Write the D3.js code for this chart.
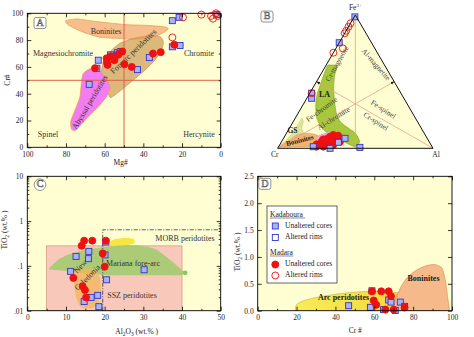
<!DOCTYPE html>
<html><head><meta charset="utf-8">
<script src="https://cdn.jsdelivr.net/npm/d3@7"></script>
<style>body{margin:0;background:#fff}svg{display:block}text{font-family:"Liberation Serif","Times New Roman",serif}</style>
</head><body>
<svg id="c" width="474" height="337"></svg>
<script>
// ---------- DATA ----------
// Panel A: [Mg#, Cr#]
const aKadCores = [[68,47],[63.3,65],[64,59],[57,69],[53.4,70.6],[51.7,71.5],[36.9,67],[43,58],[25,75],[21,76],[25,94.5],[21.5,97],[2,99]];
const aMadCores = [[65,59],[59,66.4],[58.5,61.5],[56.8,68],[55,65],[52.6,70],[50.9,71.5],[53,69],[49.8,62],[46,60],[35,70],[31,71],[24,76.6],[58.8,63.5]];
const aMadRims = [[25,82],[19.5,97],[10,99],[5,98],[4,96],[2.5,100],[1.5,98]];
const aBoninites = [[80.2,94.5],[74.5,95.8],[67.6,94.5],[59,93],[48.6,91.5],[38.3,91],[29.7,90],[27.1,88.8],[28.8,86.3],[33.1,83.1],[38.3,81.3],[45.2,80.6],[53.8,81.3],[62.4,82.1],[69.3,85],[74.5,88],[78.8,91.3]];
const aForearc = [[57.2,37.3],[59.8,45.3],[61.6,55.2],[60.7,63.9],[57.2,71.4],[52.1,77.6],[45.2,81.3],[36.6,83.1],[31.4,82.6],[29.7,78.9],[30.5,72.6],[34,65.2],[39.1,57.7],[45.2,50.2],[50.3,44],[54.7,39.1]];
const aAbyssal = [[77.1,13.4],[77.6,19.2],[75.3,27.9],[72.8,37.8],[71.9,50.2],[71,55.2],[67.9,58.5],[63.3,57.7],[59.8,52.7],[57.2,45.3],[59,37.8],[63.3,30.3],[68.4,22.9],[72.8,15.9],[75.3,12.4]];
const aTicks = [0,20,40,60,80,100];
const aMinor = [10,30,50,70,90];

// Panel B: [Cr, Al, Fe3+] fractions
const bKadCores = [[0.01,0.004,0.986],[0.208,0,0.792],[0.575,0.012,0.413],[0.594,0.031,0.375],[0.765,0.223,0.012],[0.663,0.337,0],[0.529,0.396,0.075],[0.467,0.526,0.007],[0.587,0.368,0.045]];
const bMadCores = [[0.734,0.236,0.03],[0.692,0.258,0.05],[0.649,0.281,0.07],[0.62,0.293,0.087],[0.592,0.308,0.1],[0.583,0.342,0.075],[0.574,0.376,0.05],[0.70,0.288,0.012],[0.63,0.345,0.025],[0.656,0.307,0.037],[0.60,0.338,0.062],[0.563,0.342,0.095],[0.745,0.243,0.012],[0.675,0.26,0.067]];
const bMadRims = [[0.062,0,0.938],[0.088,0,0.912],[0.118,0,0.882],[0.137,0,0.863],[0.283,0,0.717],[0.206,0.044,0.75],[0.575,0.012,0.413]];
const bLA = [[0.359,0.016,0.625],[0.31,0.073,0.617],[0.358,0.092,0.55],[0.409,0.129,0.462],[0.454,0.184,0.362],[0.491,0.246,0.263],[0.497,0.303,0.2],[0.468,0.382,0.15],[0.443,0.444,0.113],[0.447,0.503,0.05],[0.494,0.494,0.012],[0.52,0.455,0.025],[0.566,0.372,0.062],[0.611,0.289,0.1],[0.64,0.21,0.15],[0.635,0.14,0.225],[0.599,0.089,0.312],[0.547,0.053,0.4],[0.459,0.029,0.512],[0.377,0.011,0.612]];
const bGS = [[0.988,0,0.012],[0.911,0.027,0.062],[0.837,0.038,0.125],[0.765,0.043,0.192],[0.733,0.042,0.225],[0.735,0.065,0.2],[0.77,0.08,0.15],[0.774,0.126,0.1],[0.729,0.188,0.083],[0.714,0.236,0.05],[0.743,0.245,0.012],[0.894,0.094,0.012]];
const bBoninites = [[0.979,0.009,0.012],[0.89,0.048,0.062],[0.828,0.072,0.1],[0.767,0.12,0.113],[0.707,0.188,0.105],[0.679,0.246,0.075],[0.701,0.267,0.032],[0.783,0.2,0.017],[0.894,0.094,0.012]];
const bPink = [[0.695,0.213,0.092],[0.602,0.276,0.122],[0.553,0.355,0.092],[0.599,0.376,0.025],[0.719,0.264,0.017]];

// Panel C: [Al2O3, TiO2]
const cKadCores = [[12.6,0.163],[15.9,0.211],[15.8,0.145],[20.1,0.176],[20.3,0.341],[11.2,0.0755],[20.5,0.049],[30.2,0.082],[18.2,0.022],[16.5,0.0198],[14.7,0.016],[18.5,0.0123]];
const cMadCores = [[14.7,0.366],[16.8,0.366],[14.05,0.282],[20.3,0.366],[19.5,0.19],[20,0.096],[11.9,0.054],[14.3,0.035],[14.9,0.029],[15.2,0.0198]];
const cMariana = [[5.7,0.0896],[8,0.138],[11,0.184],[15.3,0.23],[20.5,0.269],[25.7,0.288],[30,0.278],[33.4,0.23],[36.9,0.138],[39.9,0.082],[40.8,0.069],[39.5,0.0615],[34.3,0.0615],[27.4,0.0615],[20.5,0.0615],[14.5,0.069],[9.3,0.078],[5.9,0.082]];
const cYellow = [[20.9,0.307],[22.2,0.385],[24.8,0.419],[27.4,0.405],[27.8,0.324],[25.7,0.288],[22.2,0.273]];
const cNewCal = [[12.3,0.0755],[14.5,0.0896],[17.5,0.082],[18.8,0.0535],[19,0.027],[18.4,0.0148],[16.6,0.0115],[14.1,0.0115],[12.8,0.0176],[12.1,0.0349]];
const cSSZ = [[5,0.01],[40,0.28]];
const cMORB = [[19.5,0.01],[19.5,0.64],[50,0.64]];
const cXTicks = [0,10,20,30,40,50];
const cXMinor = [5,15,25,35,45];
const cYTicks = [0.01,0.1,1,10];
const cYLabels = [".01",".1","1","10"];

// Panel D: [Cr#, TiO2]
const dKadCores = [[46.8,0.093],[58,0.062],[67.4,0.2],[68.6,0.16],[73.4,0.16],[75.6,0.08],[64.8,0.02],[70.8,0.005],[58.8,0.37]];
const dMadCores = [[58.8,0.36],[63.6,0.36],[67.4,0.36],[68.6,0.27],[59.7,0.19],[61,0.11],[65.7,0.02],[70,0.02],[75.6,0.06]];
const dArc = [[19.4,0],[19.9,0.11],[23.7,0.186],[30.5,0.248],[40.8,0.31],[51.1,0.347],[61.4,0.36],[71.7,0.335],[82,0.273],[90.6,0.174],[94.3,0.08],[94,0]];
const dBoninites = [[70,0],[70.8,0.205],[73.4,0.42],[76.8,0.61],[82,0.76],[87.1,0.84],[91.4,0.856],[94.9,0.79],[96.6,0.55],[97.8,0.236],[98.8,0]];
const dXTicks = [0,20,40,60,80,100];
const dXMinor = [10,30,50,70,90];
const dYTicks = [0,0.5,1,1.5,2,2.5];

// ---------- STYLE ----------
const BG = "#FFFED3";
const BLUE_F = "#A9B3F2", BLUE_S = "#3333CC", RED = "#EE1111";
const svg = d3.select("#c");
const defs = svg.append("defs");

function clean(sel){
  sel.select(".domain").remove();
  sel.attr("font-family",null).attr("font-size",null);
  sel.selectAll("text").attr("font-size",7.5).attr("fill","#222");
  sel.selectAll("line").attr("stroke","#000").attr("stroke-width",0.8);
}
function axes(g, x, y, o){
  const xr=x.range(), yr=y.range();
  g.append("g").attr("transform",`translate(0,${yr[0]})`)
    .call(d3.axisBottom(x).tickValues(o.xt).tickFormat(o.xf||d3.format("d")).tickSizeInner(-4).tickSizeOuter(0).tickPadding(4)).call(clean);
  g.append("g").attr("transform",`translate(0,${yr[1]})`)
    .call(d3.axisTop(x).tickValues(o.xt).tickFormat("").tickSizeInner(-4).tickSizeOuter(0)).call(clean);
  g.append("g").attr("transform",`translate(${Math.min(...xr)},0)`)
    .call(d3.axisLeft(y).tickValues(o.yt).tickFormat(o.yf||d3.format("d")).tickSizeInner(-4).tickSizeOuter(0).tickPadding(4)).call(clean);
  g.append("g").attr("transform",`translate(${Math.max(...xr)},0)`)
    .call(d3.axisRight(y).tickValues(o.yt).tickFormat("").tickSizeInner(-4).tickSizeOuter(0)).call(clean);
  if(o.xm){
    g.append("g").attr("transform",`translate(0,${yr[0]})`).call(d3.axisBottom(x).tickValues(o.xm).tickFormat("").tickSizeInner(-2).tickSizeOuter(0)).call(clean);
    g.append("g").attr("transform",`translate(0,${yr[1]})`).call(d3.axisTop(x).tickValues(o.xm).tickFormat("").tickSizeInner(-2).tickSizeOuter(0)).call(clean);
  }
  if(o.ym){
    g.append("g").attr("transform",`translate(${Math.min(...xr)},0)`).call(d3.axisLeft(y).tickValues(o.ym).tickFormat("").tickSizeInner(-2).tickSizeOuter(0)).call(clean);
    g.append("g").attr("transform",`translate(${Math.max(...xr)},0)`).call(d3.axisRight(y).tickValues(o.ym).tickFormat("").tickSizeInner(-2).tickSizeOuter(0)).call(clean);
  }
}
function bg(g,x,y){
  const xr=x.range(), yr=y.range();
  g.append("rect").attr("x",Math.min(...xr)).attr("y",Math.min(...yr))
   .attr("width",Math.abs(xr[1]-xr[0])).attr("height",Math.abs(yr[1]-yr[0])).attr("fill",BG);
}
function frame(g,x,y){
  const xr=x.range(), yr=y.range();
  g.append("rect").attr("x",Math.min(...xr)).attr("y",Math.min(...yr))
   .attr("width",Math.abs(xr[1]-xr[0])).attr("height",Math.abs(yr[1]-yr[0])).attr("fill","none").attr("stroke","#000").attr("stroke-width",0.9);
}
function blob(g,pts,x,y,fill,stroke,op,curve){
  const line=d3.line().x(d=>x(d[0])).y(d=>y(d[1])).curve(curve||d3.curveCardinalClosed.tension(0.4));
  g.append("path").attr("d",line(pts)).attr("fill",fill).attr("fill-opacity",op==null?1:op)
    .attr("stroke",stroke||"none").attr("stroke-width",0.7);
}
// px, py: accessors returning pixel coordinates for a datum
function squaresP(g,pts,px,py,filled){
  g.selectAll(null).data(pts).enter().append("rect")
   .attr("x",d=>px(d)-3).attr("y",d=>py(d)-3).attr("width",6).attr("height",6)
   .attr("fill",filled?BLUE_F:"none").attr("stroke",BLUE_S).attr("stroke-width",0.9);
}
function circlesP(g,pts,px,py,filled){
  g.selectAll(null).data(pts).enter().append("circle")
   .attr("cx",px).attr("cy",py).attr("r",3.5)
   .attr("fill",filled?RED:"none").attr("stroke",RED).attr("stroke-width",0.9);
}
const squares=(g,pts,x,y,f)=>squaresP(g,pts,d=>x(d[0]),d=>y(d[1]),f);
const circles=(g,pts,x,y,f)=>circlesP(g,pts,d=>x(d[0]),d=>y(d[1]),f);
function label(g,txt,x,y,o={}){
  const t=g.append("text").attr("x",x).attr("y",y).attr("font-size",o.size||8)
    .attr("text-anchor",o.anchor||"middle").attr("fill",o.fill||"#333").attr("dominant-baseline","middle");
  if(o.bold) t.attr("font-weight","bold");
  if(o.rot!=null) t.attr("transform",`rotate(${o.rot},${x},${y})`);
  t.text(txt); return t;
}
function tio2(g,x,y){
  const t=g.append("text").attr("x",x).attr("y",y).attr("font-size",7.5).attr("text-anchor","middle")
    .attr("fill","#222").attr("transform",`rotate(-90,${x},${y})`);
  t.append("tspan").text("TiO");
  t.append("tspan").attr("font-size",5.5).attr("dy",2).text("2");
  t.append("tspan").attr("dy",-2).text(" (wt.% )");
}
function letterBox(g,L,cx,cy,circle){
  if(circle) g.append("circle").attr("cx",cx).attr("cy",cy).attr("r",5.8).attr("fill","#fff").attr("stroke","#666").attr("stroke-width",0.7);
  else g.append("rect").attr("x",cx-6).attr("y",cy-5.5).attr("width",12).attr("height",11).attr("rx",2).attr("fill","#fff").attr("stroke","#666").attr("stroke-width",0.7);
  g.append("text").attr("x",cx).attr("y",cy+0.5).attr("font-size",10).attr("text-anchor","middle").attr("dominant-baseline","middle")
   .attr("font-family","Liberation Sans, sans-serif").attr("fill","#fff").attr("stroke","#555").attr("stroke-width",0.6).text(L);
}

// ---------- PANEL A ----------
{
  const g=svg.append("g");
  const x=d3.scaleLinear([100,0],[27.3,220.7]), y=d3.scaleLinear([0,100],[147.3,13.3]);
  bg(g,x,y);
  blob(g,aBoninites,x,y,"#F5BE8C","#E8964E",1);
  blob(g,aForearc,x,y,"#CF9A55","#C89050",0.7);
  blob(g,aAbyssal,x,y,"#F27CF0","#F0A040",1);
  g.append("line").attr("x1",x(50)).attr("x2",x(50)).attr("y1",y(0)).attr("y2",y(100)).attr("stroke","#E0604A").attr("stroke-width",1);
  g.append("line").attr("x1",x(100)).attr("x2",x(0)).attr("y1",y(50)).attr("y2",y(50)).attr("stroke","#E0604A").attr("stroke-width",1);
  label(g,"Boninites",106,32);
  label(g,"Forearc peridotites",134,52,{rot:-44});
  label(g,"Abyssal peridotites",90.5,102.5,{rot:-59});
  label(g,"Magnesiochromite",63,54);
  label(g,"Chromite",199,54);
  label(g,"Spinel",48,135);
  label(g,"Hercynite",199,135);
  squares(g,aKadCores,x,y,true);
  circles(g,aMadCores,x,y,true);
  circles(g,aMadRims,x,y,false);
  frame(g,x,y);
  axes(g,x,y,{xt:aTicks,yt:aTicks,xm:aMinor,ym:aMinor});
  letterBox(g,"A",40,23);
  label(g,"Mg#",120.7,163.5,{size:7.5,fill:"#222"});
  label(g,"Cr#",8.5,80,{size:7.5,fill:"#222",rot:-90});
}

// ---------- PANEL B (ternary) ----------
{
  const g=svg.append("g");
  const tx=d3.scaleLinear([0,1],[277.7,433]), ty=d3.scaleLinear([0,1],[148.3,15]);
  const P=d=>{const s=d[0]+d[1]+d[2];const al=d[1]/s, fe=d[2]/s;return [tx(al+fe/2),ty(fe)];};
  const PX=d=>P(d)[0], PY=d=>P(d)[1];
  const V=[[1,0,0],[0,1,0],[0,0,1]].map(P);
  const tline=d3.line().x(PX).y(PY);
  g.append("path").attr("d",tline([[1,0,0],[0,1,0],[0,0,1]])+"Z").attr("fill",BG).attr("stroke","none");
  const sm=d3.line().x(PX).y(PY).curve(d3.curveCardinalClosed.tension(0.4));
  g.append("path").attr("d",sm(bGS)).attr("fill","#DCE59A").attr("stroke","#B8C070").attr("stroke-width",0.5);
  g.append("path").attr("d",sm(bBoninites)).attr("fill","#F2AE6C").attr("fill-opacity",0.9).attr("stroke","#E09050").attr("stroke-width",0.5);
  g.append("path").attr("d",sm(bLA)).attr("fill","#A6C83A").attr("stroke","#7E9A22").attr("stroke-width",0.6);
  g.append("path").attr("d",sm(bPink)).attr("fill","#F4A0E4").attr("stroke","none");
  defs.append("marker").attr("id","arr").attr("viewBox","0 0 10 10").attr("refX",9).attr("refY",5)
    .attr("markerWidth",5).attr("markerHeight",5).attr("orient","auto")
    .append("path").attr("d","M0,1 L10,5 L0,9 Z").attr("fill","#222");
  const lc="#E8A08C";
  g.append("path").attr("d",tline([[0,0,1],[0.5,0.5,0]])).attr("stroke",lc).attr("stroke-width",0.8);
  g.append("path").attr("d",tline([[0,1,0],[0.5,0,0.5]])).attr("stroke",lc).attr("stroke-width",0.8).attr("marker-end","url(#arr)");
  g.append("path").attr("d",tline([[1,0,0],[0,0.5,0.5]])).attr("stroke",lc).attr("stroke-width",0.8).attr("marker-end","url(#arr)");
  const lf="#444";
  label(g,"Cr-magnetite",337.5,64,{rot:-60,fill:lf,size:7.5});
  label(g,"Al-magnetite",375.5,65,{rot:49,fill:lf,size:7.5});
  label(g,"Fe-chromite",322,110,{rot:-36,fill:lf,size:7.5});
  label(g,"Al-chromite",334,119,{rot:-32,fill:lf,size:7.5});
  label(g,"Fe-spinel",383,110,{rot:33,fill:lf,size:7.5});
  label(g,"Cr-spinel",375.5,122,{rot:32,fill:lf,size:7.5});
  label(g,"LA",324.5,95.5,{bold:true,fill:"#222",size:8});
  label(g,"GS",292.5,131,{bold:true,fill:"#222",size:7.5});
  label(g,"Boninites",300,141,{bold:true,fill:"#222",size:7,rot:-14});
  label(g,"Madara",330,143,{fill:"#222",size:6.5});
  circlesP(g,bMadCores,PX,PY,true);
  squaresP(g,bKadCores,PX,PY,true);
  circlesP(g,bMadRims,PX,PY,false);
  g.append("path").attr("d",tline([[1,0,0],[0,1,0],[0,0,1]])+"Z").attr("fill","none").attr("stroke","#111").attr("stroke-width",1);
  const fe=g.append("text").attr("x",V[2][0]).attr("y",V[2][1]-5).attr("font-size",7.5).attr("text-anchor","middle").attr("fill","#222");
  fe.append("tspan").text("Fe");
  fe.append("tspan").attr("font-size",5).attr("dy",-3).text("3+");
  label(g,"Cr",V[0][0]-3,V[0][1]+6.5,{size:7.5,fill:"#222"});
  label(g,"Al",V[1][0]+3,V[1][1]+6.5,{size:7.5,fill:"#222"});
  letterBox(g,"B",267,16.5);
}

// ---------- PANEL C ----------
{
  const g=svg.append("g");
  const x=d3.scaleLinear([0,50],[27.3,220.7]), y=d3.scaleLog([0.01,10],[310.7,176.3]);
  bg(g,x,y);
  g.append("rect").attr("x",x(cSSZ[0][0])).attr("y",y(cSSZ[1][1])).attr("width",x(cSSZ[1][0])-x(cSSZ[0][0]))
   .attr("height",y(cSSZ[0][1])-y(cSSZ[1][1])).attr("fill","#F8C9BA").attr("stroke","#D49080").attr("stroke-width",0.7);
  blob(g,cYellow,x,y,"#F8E640",null,1);
  blob(g,cMariana,x,y,"#9ECB6A",null,0.85);
  g.append("circle").attr("cx",x(40.8)).attr("cy",y(0.07)).attr("r",2.3).attr("fill","#7CD05A");
  blob(g,cNewCal,x,y,"#F4B45A",null,0.75);
  g.append("path").attr("d",d3.line().x(d=>x(d[0])).y(d=>y(d[1]))(cMORB))
   .attr("fill","none").attr("stroke","#333").attr("stroke-width",0.8).attr("stroke-dasharray","4,1.5,1,1.5");
  label(g,"MORB peridotites",185,239,{fill:"#333"});
  label(g,"Mariana fore-arc",133,264,{fill:"#333"});
  label(g,"New",81,267,{fill:"#333",rot:-45});
  label(g,"Caledonia",88,278,{fill:"#333",rot:-45});
  label(g,"SSZ peridotites",132,296,{fill:"#333"});
  squares(g,cKadCores,x,y,true);
  circles(g,cMadCores,x,y,true);
  frame(g,x,y);
  const ym=[];[0.01,0.1,1].forEach(b=>{for(let k=2;k<=9;k++)ym.push(b*k);});
  axes(g,x,y,{xt:cXTicks,yt:cYTicks,xm:cXMinor,ym:ym,yf:d=>cYLabels[cYTicks.indexOf(d)]});
  letterBox(g,"C",40,184.7,true);
  tio2(g,7,230);
  const t=g.append("text").attr("x",136.7).attr("y",333.5).attr("font-size",7.5).attr("text-anchor","middle").attr("fill","#222");
  t.append("tspan").text("Al");t.append("tspan").attr("font-size",5.5).attr("dy",2).text("2");
  t.append("tspan").attr("dy",-2).text("O");t.append("tspan").attr("font-size",5.5).attr("dy",2).text("3");
  t.append("tspan").attr("dy",-2).text(" (wt.% )");
}

// ---------- PANEL D ----------
{
  const g=svg.append("g");
  const x=d3.scaleLinear([0,100],[257.7,452]), y=d3.scaleLinear([0,2.5],[310.7,176.3]);
  bg(g,x,y);
  const gr=defs.append("linearGradient").attr("id","arcg").attr("x1","0").attr("x2","1").attr("y1","0").attr("y2","0");
  gr.append("stop").attr("offset","0").attr("stop-color","#F8EC58");
  gr.append("stop").attr("offset","0.6").attr("stop-color","#F6DC40");
  gr.append("stop").attr("offset","1").attr("stop-color","#F2B830");
  blob(g,dArc,x,y,"url(#arcg)","#D8B040",1,d3.curveCardinal.tension(0.3));
  blob(g,dBoninites,x,y,"#F5B98A","#D89060",1,d3.curveCardinal.tension(0.3));
  label(g,"Boninites",423.5,279.5,{bold:true,fill:"#222"});
  label(g,"Arc peridotites",343.5,298.5,{bold:true,fill:"#222"});
  squares(g,dKadCores,x,y,true);
  circles(g,dMadCores,x,y,true);
  frame(g,x,y);
  axes(g,x,y,{xt:dXTicks,yt:dYTicks,xm:dXMinor,yf:d3.format(".1f")});
  letterBox(g,"D",264.8,183.8);
  tio2(g,240,252);
  label(g,"Cr #",355.3,331.5,{size:7.5,fill:"#222"});
  const L=g.append("g");
  L.append("rect").attr("x",267).attr("y",206).attr("width",70).attr("height",77).attr("fill","#fff").attr("stroke","#000").attr("stroke-width",0.6);
  const head=(t,yy)=>{L.append("text").attr("x",270).attr("y",yy).attr("font-size",7.5).attr("fill","#222").text(t);
    const w=t.length*3.9; L.append("line").attr("x1",270).attr("x2",270+w).attr("y1",yy+1.5).attr("y2",yy+1.5).attr("stroke","#222").attr("stroke-width",0.5);};
  head("Kadaboura",216.5);
  head("Madara",254.5);
  const ent=[["Unaltered cores",226,"sq",true],["Altered rims",237.5,"sq",false],["Unaltered cores",264.5,"ci",true],["Altered rims",275.5,"ci",false]];
  ent.forEach(e=>{
    if(e[2]==="sq") L.append("rect").attr("x",275.3-3).attr("y",e[1]-3).attr("width",6).attr("height",6).attr("fill",e[3]?BLUE_F:"none").attr("stroke",BLUE_S).attr("stroke-width",0.9);
    else L.append("circle").attr("cx",275.3).attr("cy",e[1]).attr("r",3.5).attr("fill",e[3]?RED:"none").attr("stroke",RED).attr("stroke-width",0.9);
    L.append("text").attr("x",285).attr("y",e[1]).attr("dominant-baseline","middle").attr("font-size",7.5).attr("fill","#222").text(e[0]);
  });
}
</script>
</body></html>
